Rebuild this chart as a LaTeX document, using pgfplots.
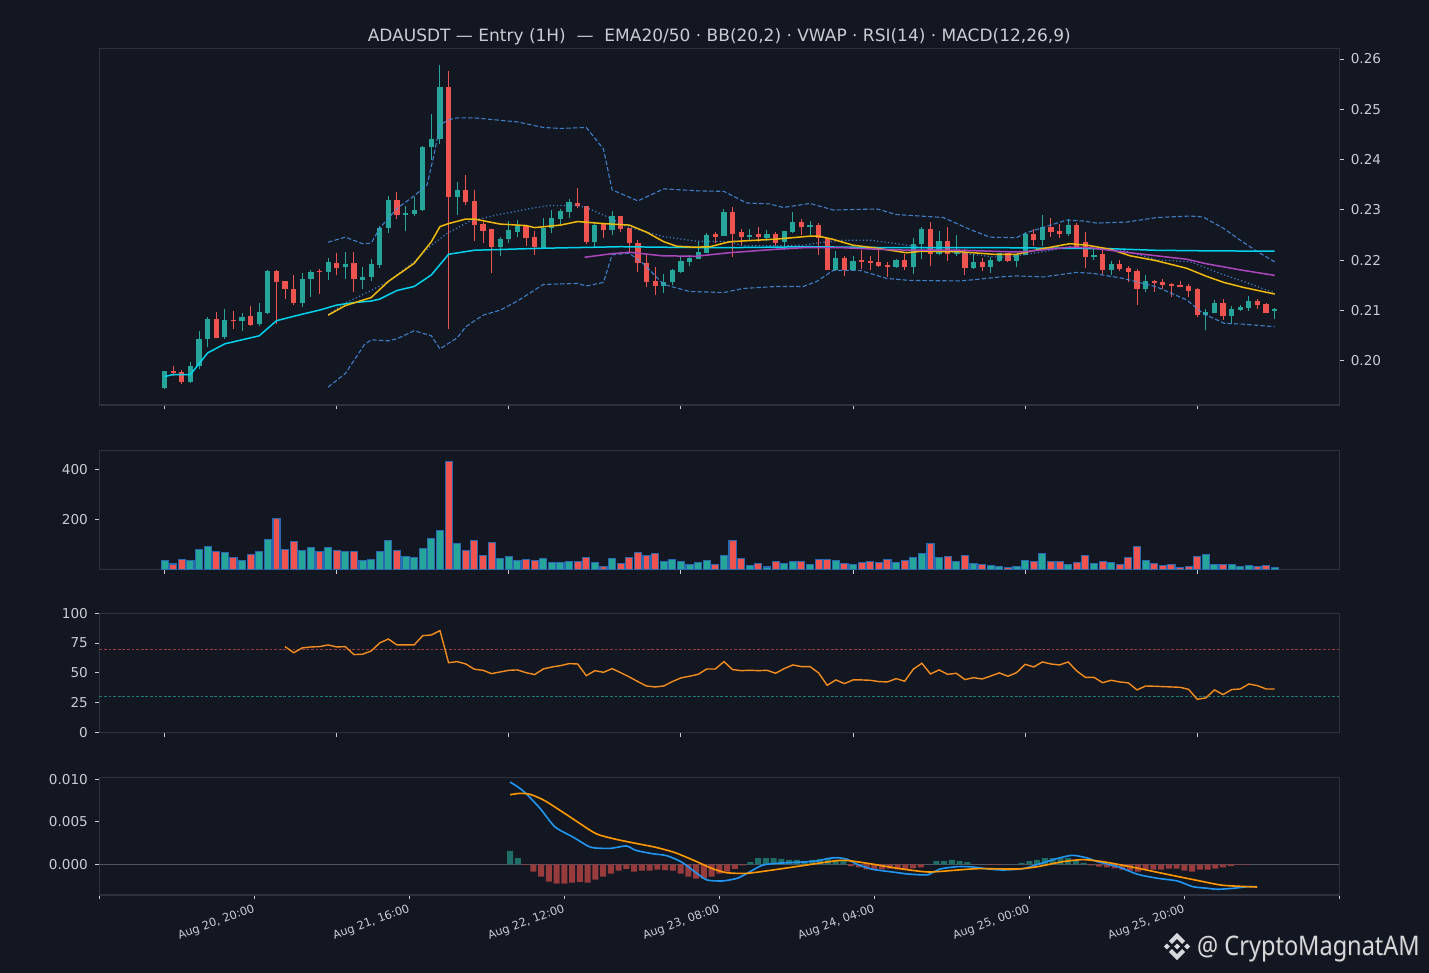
\documentclass[border=0pt]{standalone}
\usepackage{fontspec}
\setmainfont{DejaVu Sans}
\newfontfamily\wmfont{Noto Sans}
\usepackage{graphicx}
\usepackage{pgfplots}
\usepackage{pgfplotstable}
\pgfplotsset{compat=1.18}

\definecolor{bgc}{RGB}{19,23,34}
\definecolor{framec}{RGB}{46,50,62}
\definecolor{tickc}{RGB}{200,204,212}
\definecolor{labc}{RGB}{200,204,212}
\definecolor{upc}{RGB}{38,166,154}
\definecolor{dnc}{RGB}{239,83,80}
\definecolor{ema20c}{RGB}{240,185,11}
\definecolor{ema50c}{RGB}{0,210,235}
\definecolor{vwapc}{RGB}{171,71,188}
\definecolor{bbc}{RGB}{74,144,226}
\definecolor{voledge}{RGB}{40,105,175}
\definecolor{rsic}{RGB}{245,140,30}
\definecolor{macdc}{RGB}{33,150,243}
\definecolor{sigc}{RGB}{255,152,0}
\definecolor{hup}{RGB}{30,109,104}
\definecolor{hdn}{RGB}{151,59,61}
\definecolor{zeroc}{RGB}{80,84,96}
\definecolor{wmc}{RGB}{214,216,222}

% up candles: index open high low close volume
\pgfplotstableread{
i o h l c v
0 0.1947 0.1981 0.1944 0.1980 35
3 0.1959 0.1997 0.1957 0.1990 35
4 0.1989 0.2059 0.1985 0.2044 79
5 0.2043 0.2088 0.2027 0.2083 91
7 0.2047 0.2103 0.2044 0.2081 67
9 0.2080 0.2095 0.2060 0.2087 35
11 0.2074 0.2115 0.2070 0.2097 71
12 0.2095 0.2181 0.2093 0.2179 119
16 0.2116 0.2174 0.2108 0.2163 75
17 0.2162 0.2181 0.2127 0.2177 87
19 0.2176 0.2204 0.2160 0.2197 87
21 0.2187 0.2216 0.2162 0.2193 71
23 0.2160 0.2186 0.2143 0.2167 35
24 0.2167 0.2203 0.2158 0.2193 39
25 0.2191 0.2268 0.2184 0.2265 71
26 0.2265 0.2328 0.2254 0.2320 115
28 0.2290 0.2307 0.2259 0.2294 51
29 0.2292 0.2325 0.2289 0.2299 47
30 0.2299 0.2428 0.2297 0.2426 83
31 0.2426 0.2490 0.2399 0.2441 123
32 0.2441 0.2588 0.2431 0.2544 155
34 0.2326 0.2355 0.2291 0.2340 103
39 0.2227 0.2246 0.2209 0.2243 43
40 0.2243 0.2279 0.2234 0.2260 51
41 0.2257 0.2280 0.2246 0.2268 35
44 0.2225 0.2284 0.2225 0.2264 43
45 0.2264 0.2299 0.2255 0.2284 27
46 0.2282 0.2302 0.2273 0.2297 27
47 0.2295 0.2322 0.2285 0.2315 31
50 0.2236 0.2277 0.2227 0.2270 27
52 0.2260 0.2298 0.2250 0.2288 43
58 0.2148 0.2172 0.2136 0.2156 31
59 0.2156 0.2183 0.2151 0.2181 39
60 0.2177 0.2207 0.2174 0.2199 31
61 0.2197 0.2211 0.2188 0.2204 19
62 0.2203 0.2236 0.2203 0.2217 27
63 0.2215 0.2254 0.2215 0.2250 35
65 0.2248 0.2302 0.2248 0.2295 56
68 0.2246 0.2262 0.2240 0.2250 15
70 0.2244 0.2260 0.2239 0.2252 9
72 0.2236 0.2258 0.2221 0.2258 23
73 0.2256 0.2296 0.2255 0.2276 31
75 0.2266 0.2278 0.2250 0.2270 19
78 0.2181 0.2219 0.2180 0.2205 35
80 0.2181 0.2209 0.2180 0.2199 19
85 0.2187 0.2203 0.2185 0.2201 27
87 0.2187 0.2244 0.2172 0.2232 47
88 0.2232 0.2266 0.2202 0.2262 63
90 0.2213 0.2258 0.2210 0.2238 47
92 0.2213 0.2250 0.2209 0.2218 31
94 0.2185 0.2213 0.2183 0.2197 23
96 0.2187 0.2207 0.2174 0.2201 15
97 0.2199 0.2214 0.2197 0.2214 11
99 0.2199 0.2210 0.2187 0.2210 11
100 0.2210 0.2257 0.2210 0.2253 35
102 0.2240 0.2290 0.2229 0.2266 63
105 0.2252 0.2282 0.2248 0.2270 19
108 0.2207 0.2222 0.2201 0.2211 23
110 0.2181 0.2198 0.2171 0.2193 27
114 0.2143 0.2171 0.2138 0.2159 35
121 0.2091 0.2104 0.2061 0.2097 59
122 0.2095 0.2122 0.2095 0.2116 19
124 0.2089 0.2109 0.2076 0.2103 19
125 0.2101 0.2112 0.2099 0.2107 11
126 0.2105 0.2130 0.2099 0.2119 15
129 0.2099 0.2105 0.2083 0.2103 7
}\upt

% down candles
\pgfplotstableread{
i o h l c v
1 0.1981 0.1990 0.1970 0.1977 21
2 0.1978 0.1982 0.1954 0.1959 39
6 0.2083 0.2097 0.2046 0.2046 71
8 0.2082 0.2100 0.2063 0.2080 47
10 0.2089 0.2109 0.2070 0.2072 59
13 0.2179 0.2181 0.2074 0.2156 203
14 0.2159 0.2159 0.2123 0.2142 79
15 0.2142 0.2171 0.2111 0.2116 111
18 0.2178 0.2183 0.2134 0.2176 71
20 0.2194 0.2214 0.2170 0.2185 75
22 0.2194 0.2217 0.2137 0.2162 71
27 0.2320 0.2335 0.2283 0.2290 75
33 0.2544 0.2576 0.2064 0.2326 431
35 0.2340 0.2370 0.2309 0.2315 75
36 0.2317 0.2340 0.2239 0.2270 115
37 0.2273 0.2277 0.2234 0.2259 55
38 0.2262 0.2262 0.2174 0.2227 107
42 0.2268 0.2268 0.2229 0.2245 39
43 0.2246 0.2258 0.2211 0.2227 35
48 0.2314 0.2343 0.2303 0.2307 31
49 0.2308 0.2308 0.2233 0.2236 47
51 0.2272 0.2272 0.2245 0.2260 11
53 0.2288 0.2288 0.2257 0.2262 23
54 0.2264 0.2264 0.2217 0.2235 47
55 0.2234 0.2240 0.2176 0.2195 67
56 0.2195 0.2212 0.2146 0.2157 55
57 0.2158 0.2187 0.2132 0.2148 63
64 0.2252 0.2257 0.2234 0.2246 19
66 0.2296 0.2305 0.2207 0.2253 115
67 0.2256 0.2263 0.2230 0.2246 43
69 0.2252 0.2267 0.2237 0.2246 23
71 0.2252 0.2256 0.2228 0.2235 31
74 0.2276 0.2283 0.2250 0.2266 31
76 0.2270 0.2274 0.2211 0.2245 39
77 0.2245 0.2245 0.2180 0.2181 39
79 0.2205 0.2209 0.2168 0.2181 23
81 0.2201 0.2221 0.2183 0.2197 27
82 0.2199 0.2209 0.2181 0.2195 31
83 0.2197 0.2221 0.2186 0.2189 27
84 0.2191 0.2197 0.2166 0.2187 39
86 0.2201 0.2213 0.2181 0.2187 35
89 0.2262 0.2276 0.2189 0.2213 103
91 0.2238 0.2267 0.2199 0.2213 51
93 0.2216 0.2222 0.2170 0.2185 55
95 0.2197 0.2205 0.2178 0.2187 19
98 0.2214 0.2214 0.2197 0.2199 7
101 0.2252 0.2262 0.2229 0.2240 31
103 0.2266 0.2285 0.2247 0.2256 31
104 0.2258 0.2273 0.2245 0.2252 31
106 0.2270 0.2275 0.2226 0.2226 27
107 0.2236 0.2256 0.2185 0.2207 55
109 0.2212 0.2220 0.2173 0.2181 31
111 0.2193 0.2201 0.2178 0.2183 19
112 0.2185 0.2188 0.2157 0.2177 47
113 0.2179 0.2183 0.2112 0.2143 91
115 0.2159 0.2161 0.2138 0.2155 23
116 0.2157 0.2162 0.2142 0.2151 15
117 0.2153 0.2154 0.2128 0.2149 19
118 0.2151 0.2159 0.2146 0.2147 7
119 0.2149 0.2152 0.2128 0.2139 11
120 0.2143 0.2145 0.2088 0.2091 51
123 0.2116 0.2124 0.2081 0.2089 19
127 0.2119 0.2124 0.2103 0.2111 11
128 0.2113 0.2116 0.2095 0.2095 15
}\dnt

\pgfplotstableread{
x y
0 0.1969
1 0.1973
3 0.1973
5 0.2016
7 0.2034
9 0.2042
11 0.2050
13 0.2080
16 0.2093
18 0.2101
20 0.2111
22 0.2116
24 0.2119
25 0.2123
27 0.2140
29 0.2148
31 0.2171
33 0.2212
36 0.2220
44 0.2224
53 0.2227
58 0.2226
65 0.2225
75 0.2227
85 0.2225
98 0.2225
110 0.2223
115 0.2220
120 0.2219
129 0.2218
}\emafifty

\pgfplotstableread{
x y
19 0.2091
21 0.2110
24 0.2126
26 0.2158
29 0.2194
31 0.2237
32 0.2267
33 0.2273
35 0.2282
36 0.2282
39 0.2272
42 0.2269
43 0.2265
46 0.2270
48 0.2277
51 0.2273
54 0.2270
56 0.2256
58 0.2237
59.5 0.2228
61.5 0.2226
63.4 0.2227
64.5 0.2232
65.7 0.2237
71 0.2242
75 0.2248
76 0.2248
77.6 0.2242
80 0.2230
82.8 0.2224
86.2 0.2215
88 0.2218
92.4 0.2217
96.3 0.2212
99 0.2212
101.7 0.2222
105.2 0.2233
107.2 0.2230
109.9 0.2222
112.2 0.2209
115.3 0.2199
118.8 0.2184
121.1 0.2168
123.1 0.2156
125.4 0.2146
129 0.2133
}\ematwenty

\pgfplotstableread{
x y
48.8 0.2206
51.9 0.2213
54 0.2216
57.8 0.2209
61.7 0.2208
65.6 0.2215
71.1 0.2222
74.2 0.2225
78.9 0.2225
82.8 0.2222
86.6 0.2220
92.4 0.2220
98 0.2217
99.8 0.2217
105.2 0.2226
107.5 0.2225
112.2 0.2215
118.8 0.2202
121.1 0.2193
125 0.2181
129 0.2170
}\vwap

\pgfplotstableread{
x y
19 0.2236
21 0.2246
23 0.2233
24 0.2234
25 0.2264
27 0.2303
29 0.2328
30.5 0.2350
31.3 0.2409
32 0.2469
33 0.2479
34 0.2483
36 0.2483
41 0.2475
44 0.2464
46 0.2462
49 0.2464
51 0.2421
52 0.2340
55 0.2318
58 0.2342
62 0.2338
65 0.2337
67.6 0.2314
70.3 0.2312
71.9 0.2305
75 0.2313
77.7 0.2300
82.8 0.2302
85 0.2291
90.5 0.2285
93.5 0.2262
95.9 0.2246
99 0.2245
100.2 0.2255
104.8 0.2280
106.8 0.2278
108.3 0.2274
111.8 0.2276
115.3 0.2285
119.2 0.2288
120.7 0.2286
123.1 0.2263
125 0.2240
127 0.2217
129 0.2197
}\bbu

\pgfplotstableread{
x y
19 0.2092
21 0.2115
23.3 0.2134
26 0.2158
29 0.2197
31 0.2230
32.8 0.2253
35.5 0.2278
38.6 0.2290
42.5 0.2303
44.8 0.2309
47.9 0.2309
49 0.2305
51 0.2290
53.7 0.2267
58 0.2247
61.8 0.2238
65.6 0.2237
67.2 0.2229
71.1 0.2229
74.2 0.2230
76.1 0.2235
78.9 0.2240
82 0.2240
84.7 0.2234
88.6 0.2224
92.4 0.2214
96.3 0.2207
98 0.2206
99 0.2209
102.1 0.2217
105.2 0.2227
108.3 0.2224
111.4 0.2220
115.3 0.2201
119.2 0.2197
123.1 0.2171
125.4 0.2158
129 0.2135
}\bbm

\pgfplotstableread{
x y
19 0.1948
21 0.1975
23.2 0.2032
24 0.2042
26 0.2040
27 0.2044
29 0.2060
31 0.2050
32 0.2024
33 0.2035
34 0.2046
35 0.2068
37 0.2091
39 0.2101
41 0.2119
44 0.2152
48 0.2154
49 0.2149
51 0.2156
52 0.2211
54 0.2214
55.6 0.2194
58 0.2152
61 0.2138
65 0.2136
67.2 0.2144
71.1 0.2148
74.2 0.2148
75.8 0.2158
77.7 0.2180
80.8 0.2180
83.9 0.2164
86.6 0.2160
92.4 0.2159
94.4 0.2162
97.1 0.2167
99 0.2169
102.1 0.2167
106 0.2176
107.9 0.2174
111.4 0.2164
115.3 0.2147
118.8 0.2121
120.7 0.2094
123.1 0.2075
125.4 0.2073
129 0.2068
}\bbl

\pgfplotstableread{
x y
14 72.0
15 66.9
16 70.9
17 71.7
18 72.0
19 73.4
20 71.7
21 72.0
22 65.3
23 65.6
24 68.3
25 75.1
26 78.4
27 73.4
28 73.4
29 73.4
30 81.2
31 81.8
32 85.4
33 58.5
34 59.4
35 57.4
36 53.0
37 52.1
38 49.3
39 50.7
40 52.1
41 52.4
42 50.1
43 48.5
44 53.2
45 54.9
46 56.0
47 57.7
48 57.4
49 47.6
50 51.8
51 50.4
52 53.5
53 50.1
54 46.5
55 42.6
56 38.9
57 38.1
58 38.9
59 42.6
60 45.7
61 47.1
62 48.7
63 53.2
64 53.2
65 59.4
66 52.7
67 51.8
68 52.1
69 51.8
70 52.1
71 49.6
72 53.5
73 56.6
74 55.2
75 55.2
76 49.9
77 39.5
78 44.0
79 40.9
80 44.0
81 44.0
82 43.7
83 42.6
84 42.3
85 45.1
86 42.9
87 53.0
88 58.0
89 49.0
90 52.4
91 48.7
92 49.6
93 44.3
94 45.9
95 44.8
96 47.3
97 49.9
98 47.1
99 50.1
100 57.1
101 54.9
102 59.1
103 57.4
104 56.6
105 59.1
106 51.5
107 46.2
108 46.2
109 41.7
110 43.7
111 42.3
112 41.5
113 35.6
114 38.9
115 38.7
116 38.4
117 38.1
118 37.8
119 36.1
120 27.7
121 28.9
122 35.6
123 31.7
124 35.9
125 36.4
126 40.6
127 39.2
128 36.4
129 36.4
}\rsit

\pgfplotstableread{
x y
34.0 0.00969
35.0 0.00910
36.0 0.00839
37.9 0.00655
39.8 0.00440
42.1 0.00322
44.1 0.00212
45.0 0.00192
47.0 0.00188
49.0 0.00216
50.2 0.00165
52.3 0.00126
54.2 0.00102
56.1 0.00028
58.1 -0.00106
59.4 -0.00184
61.4 -0.00196
63.3 -0.00165
64.6 -0.00106
66.5 -0.00012
68.5 0.00012
71.1 0.00024
73.6 0.00039
74.9 0.00067
76.2 0.00078
77.5 0.00059
78.8 0.00000
80.8 -0.00059
84.0 -0.00098
85.3 -0.00114
87.2 -0.00125
87.9 -0.00125
89.5 -0.00055
91.8 -0.00027
93.7 -0.00031
95.7 -0.00055
97.6 -0.00067
100.2 -0.00051
102.1 0.00000
104.7 0.00071
106.6 0.00106
108.5 0.00074
109.8 0.00031
112.4 -0.00027
115.0 -0.00118
117.6 -0.00165
120.1 -0.00196
122.1 -0.00263
124.0 -0.00282
125.3 -0.00294
127.3 -0.00282
129.2 -0.00263
130.4 -0.00263
}\macdt

\pgfplotstableread{
x y
34.0 0.00819
35.3 0.00835
36.6 0.00823
38.5 0.00748
41.7 0.00560
45.0 0.00365
47.5 0.00298
50.2 0.00247
52.8 0.00200
55.3 0.00137
58.1 0.00031
60.0 -0.00047
61.9 -0.00098
64.6 -0.00106
68.5 -0.00059
72.3 -0.00008
76.8 0.00047
80.1 0.00012
84.0 -0.00047
87.9 -0.00090
91.8 -0.00067
94.4 -0.00051
99.5 -0.00055
102.1 -0.00027
105.3 0.00031
107.9 0.00055
110.5 0.00031
114.4 -0.00035
118.8 -0.00118
122.8 -0.00192
126.0 -0.00247
130.4 -0.00267
}\sigt

\pgfplotstableread{
x y
34 0.00157
35 0.00074
65 0.00027
66 0.00074
67 0.00074
68 0.00074
69 0.00063
70 0.00051
71 0.00051
72 0.00039
73 0.00051
74 0.00063
75 0.00063
76 0.00051
77 0.00051
89 0.00039
90 0.00039
91 0.00051
92 0.00039
93 0.00027
100 0.00016
101 0.00039
102 0.00051
103 0.00074
104 0.00074
105 0.00074
106 0.00074
107 0.00051
108 0.00016
}\hpos

\pgfplotstableread{
x y
36 -0.00008
37 -0.00086
38 -0.00145
39 -0.00204
40 -0.00227
41 -0.00227
42 -0.00216
43 -0.00208
44 -0.00216
45 -0.00180
46 -0.00145
47 -0.00110
48 -0.00074
49 -0.00055
50 -0.00086
51 -0.00074
52 -0.00074
53 -0.00063
54 -0.00067
55 -0.00074
56 -0.00110
57 -0.00145
58 -0.00169
59 -0.00169
60 -0.00145
61 -0.00110
62 -0.00086
63 -0.00055
64 -0.00012
78 -0.00020
79 -0.00035
80 -0.00059
81 -0.00067
82 -0.00059
83 -0.00051
84 -0.00059
85 -0.00059
86 -0.00047
87 -0.00035
96 -0.00008
97 -0.00008
109 -0.00012
110 -0.00027
111 -0.00035
112 -0.00047
113 -0.00063
114 -0.00074
115 -0.00086
116 -0.00063
117 -0.00063
118 -0.00063
119 -0.00051
120 -0.00051
121 -0.00074
122 -0.00086
123 -0.00063
124 -0.00063
125 -0.00051
126 -0.00035
127 -0.00020
128 -0.00008
129 -0.00008
}\hneg

\pgfplotsset{
  panel/.style={
    scale only axis,
    width=620pt,
    anchor=south west,
    axis line style={draw=framec, line width=0.6pt},
    every tick/.style={draw=tickc, line width=0.5pt},
    major tick length=2.2pt,
    tick align=outside,
    xtick pos=bottom,
    scaled x ticks=false,
    scaled y ticks=false,
    tick label style={font=\fontsize{6.8}{8}\selectfont, text=labc},
    /pgf/number format/assume math mode=true,
  },
  upperx/.style={xmin=-7.59, xmax=136.51, xtick={0,20,40,60,80,100,120},
    xticklabels={{},{},{},{},{},{},{}}},
  wick/.style={draw=none, mark=none, forget plot, error bars/.cd, y dir=plus, y explicit, error mark=none,
    error bar style={draw=#1, line width=0.5pt}},
  body/.style={draw=none, mark=none, forget plot, error bars/.cd, y dir=plus, y explicit, error mark=none,
    error bar style={draw=#1, line width=2.6pt}},
}

\begin{document}
\begin{tikzpicture}
\useasboundingbox (0,0) rectangle (714.5pt,486.5pt);
\fill[bgc] (0,0) rectangle (714.5pt,486.5pt);

% ---------- price ----------
\begin{axis}[panel, upperx, at={(49.65pt,284pt)}, height=178.25pt,
  ymin=0.19125, ymax=0.26209,
  ytick={0.20,0.21,0.22,0.23,0.24,0.25,0.26},
  yticklabels={0.20,0.21,0.22,0.23,0.24,0.25,0.26},
  ytick pos=right, yticklabel pos=right]
\addplot[wick=upc] table[x=i, y=l, y error plus expr=\thisrow{h}-\thisrow{l}] {\upt};
\addplot[wick=dnc] table[x=i, y=l, y error plus expr=\thisrow{h}-\thisrow{l}] {\dnt};
\addplot[body=upc] table[x=i, y=o, y error plus expr=\thisrow{c}-\thisrow{o}] {\upt};
\addplot[body=dnc] table[x=i, y=c, y error plus expr=\thisrow{o}-\thisrow{c}] {\dnt};
\addplot[bbc, opacity=0.85, line width=0.55pt, dash pattern=on 2.2pt off 1.1pt] table {\bbu};
\addplot[bbc, opacity=0.85, line width=0.55pt, dash pattern=on 2.2pt off 1.1pt] table {\bbl};
\addplot[bbc, opacity=0.85, line width=0.6pt, dash pattern=on 0.6pt off 1.2pt] table {\bbm};
\addplot[ema50c, line width=0.75pt] table {\emafifty};
\addplot[ema20c, line width=0.75pt] table {\ematwenty};
\addplot[vwapc, line width=0.75pt] table {\vwap};
\end{axis}

% ---------- volume ----------
\begin{axis}[panel, upperx, at={(49.65pt,201.85pt)}, height=59.5pt,
  ymin=0, ymax=476, ytick={200,400}, yticklabels={200,400}, ytick pos=left]
\addplot[ybar, bar width=0.82, bar shift=0pt, fill=upc, draw=voledge, line width=0.55pt] table[x=i, y=v] {\upt};
\addplot[ybar, bar width=0.82, bar shift=0pt, fill=dnc, draw=voledge, line width=0.55pt] table[x=i, y=v] {\dnt};
\end{axis}

% ---------- RSI ----------
\begin{axis}[panel, upperx, at={(49.65pt,120.35pt)}, height=59.5pt,
  ymin=0, ymax=100, ytick={0,25,50,75,100}, yticklabels={0,25,50,75,100}, ytick pos=left]
\addplot[dnc, opacity=0.6, line width=0.4pt, dash pattern=on 1.4pt off 0.9pt] coordinates {(-7.59,70) (136.51,70)};
\addplot[upc, opacity=0.7, line width=0.4pt, dash pattern=on 1.4pt off 0.9pt] coordinates {(-7.59,30) (136.51,30)};
\addplot[rsic, line width=0.7pt] table {\rsit};
\end{axis}

% ---------- MACD ----------
\begin{axis}[panel, at={(49.65pt,39pt)}, height=58.85pt,
  xmin=-19, xmax=141, ymin=-0.00361, ymax=0.01024,
  ytick={0,0.005,0.01}, yticklabels={0.000,0.005,0.010}, ytick pos=left,
  xtick={-19,1,21,41,61,81,101,121,141},
  xticklabels={{},{Aug 20, 20:00},{Aug 21, 16:00},{Aug 22, 12:00},{Aug 23, 08:00},{Aug 24, 04:00},{Aug 25, 00:00},{Aug 25, 20:00},{}},
  xticklabel style={font=\fontsize{5.7}{7}\selectfont, rotate=20, anchor=north east, inner sep=1.5pt}]
\addplot[zeroc, line width=0.6pt] coordinates {(-19,0) (141,0)};
\addplot[ybar, bar width=0.78, bar shift=0pt, fill=hup, draw=none] table {\hpos};
\addplot[ybar, bar width=0.78, bar shift=0pt, fill=hdn, draw=none] table {\hneg};
\addplot[macdc, line width=0.8pt, smooth, tension=0.4] table {\macdt};
\addplot[sigc, line width=0.8pt, smooth, tension=0.4] table {\sigt};
\end{axis}

% ---------- title ----------
\node[text=labc, font=\fontsize{8.5}{10}\selectfont] at (359.65pt,468pt)
  {ADAUSDT — Entry (1H)\ \ —\ \ EMA20/50 · BB(20,2) · VWAP · RSI(14) · MACD(12,26,9)};

% ---------- watermark ----------
\begin{scope}[shift={(588.5pt,13.25pt)}, x=6.8pt, y=6.8pt]
\fill[wmc] (0,0.22) -- (0.22,0) -- (0,-0.22) -- (-0.22,0) -- cycle;
\fill[wmc] (0.75,0.22) -- (0.97,0) -- (0.75,-0.22) -- (0.53,0) -- cycle;
\fill[wmc] (-0.75,0.22) -- (-0.53,0) -- (-0.75,-0.22) -- (-0.97,0) -- cycle;
\fill[wmc] (0,1) -- (0.6,0.4) -- (0.38,0.18) -- (0,0.56) -- (-0.38,0.18) -- (-0.6,0.4) -- cycle;
\fill[wmc] (0,-1) -- (0.6,-0.4) -- (0.38,-0.18) -- (0,-0.56) -- (-0.38,-0.18) -- (-0.6,-0.4) -- cycle;
\end{scope}
\node[anchor=base west, inner sep=0pt, text=black!85] at (598.9pt,8.0pt)
  {\resizebox{111.3pt}{\height}{\wmfont\fontsize{13.5}{16}\selectfont @ CryptoMagnatAM}};
\node[anchor=base west, inner sep=0pt, text=wmc] at (598.4pt,8.5pt)
  {\resizebox{111.3pt}{\height}{\wmfont\fontsize{13.5}{16}\selectfont @ CryptoMagnatAM}};
\end{tikzpicture}
\end{document}
